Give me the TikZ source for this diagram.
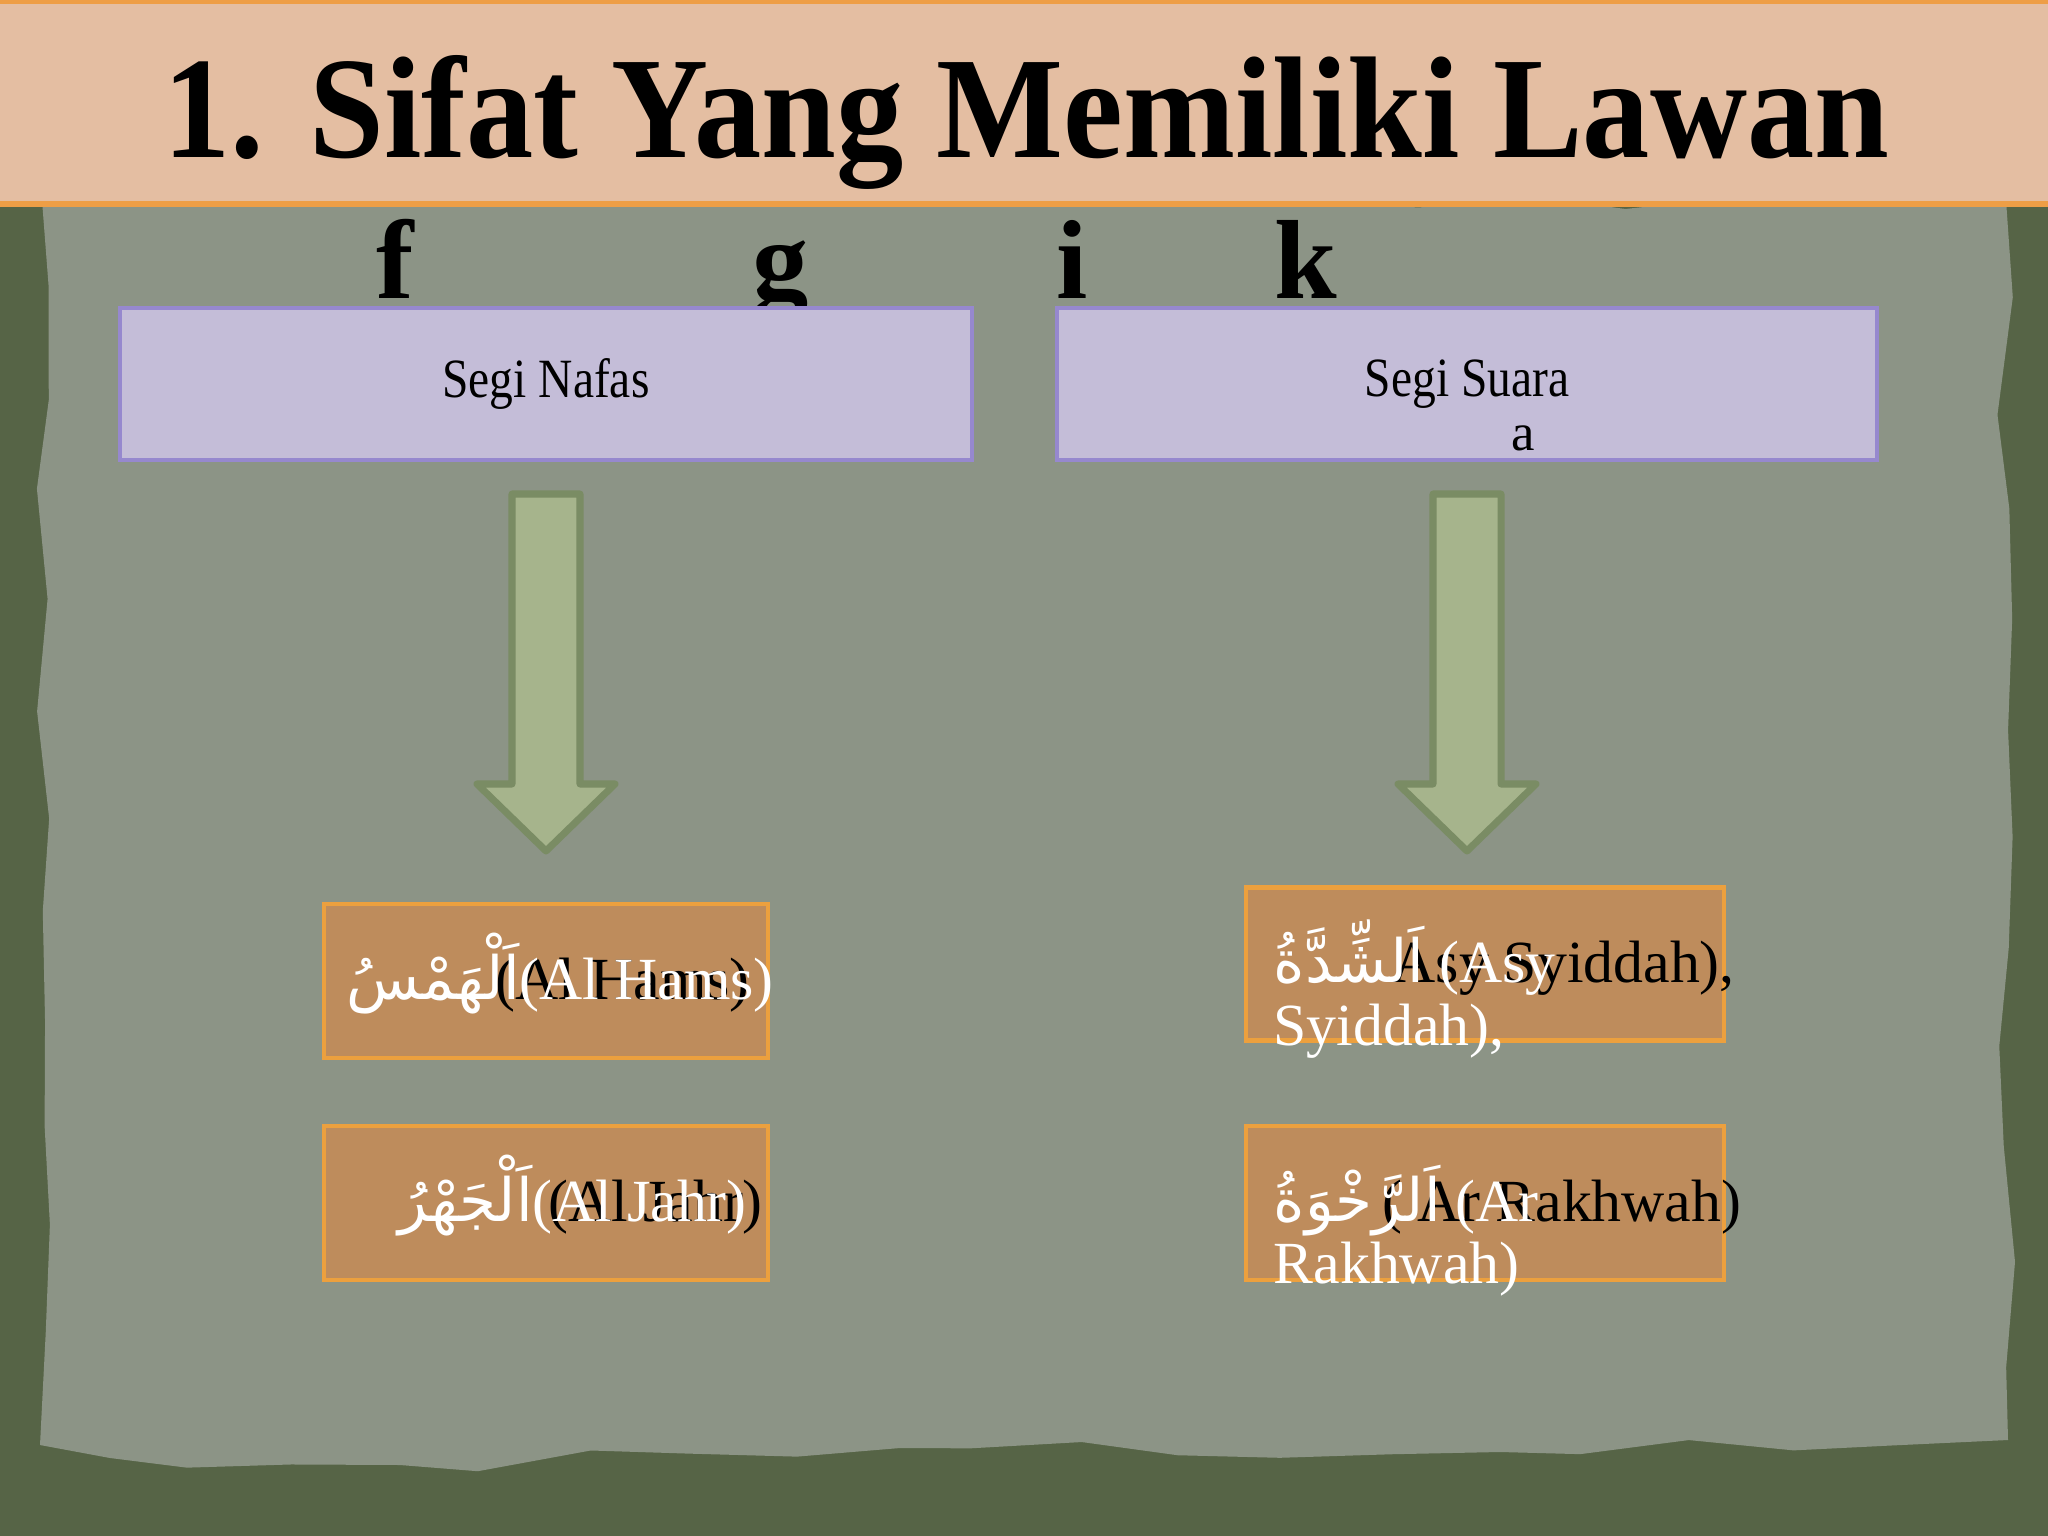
\documentclass[tikz,border=0pt]{standalone}
\usepackage{fontspec}
\setmainfont{Liberation Serif}
\newfontfamily\arabicfont[Script=Arabic]{DejaVu Sans}
\TeXXeTstate=1
\usepackage{graphicx}
\usetikzlibrary{positioning, calc, decorations.pathmorphing}

\definecolor{framegreen}{RGB}{86,100,70}
\definecolor{panelgreen}{RGB}{140,148,134}
\definecolor{peach}{RGB}{228,190,162}
\definecolor{peachline}{RGB}{238,158,70}
\definecolor{lilac}{RGB}{196,189,216}
\definecolor{lilacline}{RGB}{150,136,206}
\definecolor{arrowfill}{RGB}{166,180,140}
\definecolor{arrowline}{RGB}{122,140,100}
\definecolor{tan}{RGB}{190,140,92}
\definecolor{tanline}{RGB}{236,160,62}

\newcommand{\blockarrow}[1]{%
  \draw[greenarrow] ($(#1)+(-34,0)$) -- ++(68,0) -- ++(0,290) -- ++(35,0)
    -- ++(-69,67) -- ++(-69,-67) -- ++(35,0) -- cycle;}

\begin{document}
\begin{tikzpicture}[x=0.01cm, y=-0.01cm,
    headbox/.style={rectangle, draw=lilacline, line width=1.2pt, fill=lilac,
      inner sep=0pt, font=\fontsize{15}{18}\selectfont},
    tanbox/.style={rectangle, draw=tanline, line width=1.2pt, fill=tan, inner sep=0pt},
    greenarrow/.style={draw=arrowline, fill=arrowfill, line width=2pt, line join=round},
    whitetext/.style={anchor=base west, inner sep=0pt, text=white, font=\fontsize{17}{20}\selectfont},
    blacktext/.style={anchor=base west, inner sep=0pt, text=black, font=\fontsize{17}{20}\selectfont},
    bigletter/.style={anchor=base, inner sep=0pt, font=\fontsize{32}{36}\selectfont\bfseries}]

  \useasboundingbox (0,0) rectangle (2048,1536);
  % background
  \fill[framegreen] (0,0) rectangle (2048,1536);
  \pgfmathsetseed{11}
  \fill[panelgreen, decorate, decoration={random steps, segment length=30, amplitude=3}]
    (42,200) -- (2006,200) -- (2008,1440) -- (1500,1452) -- (900,1448) -- (400,1465) -- (110,1458) -- (40,1445) -- cycle;

  % title band
  \fill[peach] (0,0) rectangle (2048,204);
  \draw[peachline, line width=1.5pt] (0,204) -- (2048,204);
  \draw[peachline, line width=1.5pt] (0,1) -- (2048,1);
  \node[anchor=base west, inner sep=0pt] (title) at (163,157)
    {\resizebox{17.24cm}{1.02cm}{\bfseries 1. Sifat Yang Memiliki Lawan}};

  % stray letters
  \node[bigletter] (f) at (395,298) {f};
  \node[bigletter] (g) at (781,298) {g};
  \node[bigletter] (i) at (1072,298) {i};
  \node[bigletter] (k) at (1306,298) {k};

  % heads
  \node[headbox, minimum width=8.52cm, minimum height=1.52cm] (nafas) at (546,384)
    {\raisebox{-4pt}{\scalebox{0.9}[1.05]{Segi Nafas}}};
  \node[headbox, minimum width=8.19cm, minimum height=1.52cm] (suara) at (1467,384)
    {\raisebox{-4pt}{\scalebox{0.9}[1.05]{Segi Suara}}};
  \node[anchor=base, inner sep=0pt, font=\fontsize{15}{18}\selectfont] (suaraA) at (1523,450) {a};

  % arrows
  \coordinate (arrowL) at (546,494);
  \coordinate (arrowR) at (1467,494);
  \blockarrow{arrowL}
  \blockarrow{arrowR}

  % result boxes
  \node[tanbox, minimum width=4.44cm, minimum height=1.54cm] (hams) at (546,981) {};
  \node[tanbox, minimum width=4.44cm, minimum height=1.54cm] (jahr) at (546,1203) {};
  \node[tanbox, minimum width=4.78cm, minimum height=1.53cm] (syiddah) at (1485,964) {};
  \node[tanbox, minimum width=4.78cm, minimum height=1.54cm] (rakhwah) at (1485,1203) {};

  % texts (black layer)
  \node[blacktext] (hamsB) at (495,999) {(Al Hams)};
  \node[blacktext] (jahrB) at (548,1221) {(Al Jahr)};
  \node[blacktext] (syiddahB) at (1392,982) {Asy Syiddah),};
  \node[blacktext] (rakhwahB) at (1382,1221) {( Ar Rakhwah)};

  % texts (white layer)
  \node[whitetext] (hamsW) at (346,999) {{\arabicfont\beginR اَلْهَمْسُ\endR}(Al Hams)};
  \node[whitetext] (jahrW) at (398,1221) {{\arabicfont\beginR اَلْجَهْرُ\endR}(Al Jahr)};
  \node[whitetext] (syiddahW) at (1273,982) {{\arabicfont\beginR اَلشِّدَّةُ\endR} (Asy};
  \node[whitetext] (syiddahW2) at (1273,1045) {Syiddah),};
  \node[whitetext] (rakhwahW) at (1273,1221) {{\arabicfont\beginR اَلرَّخْوَةُ\endR} (Ar};
  \node[whitetext] (rakhwahW2) at (1273,1283) {Rakhwah)};
\end{tikzpicture}
\end{document}
